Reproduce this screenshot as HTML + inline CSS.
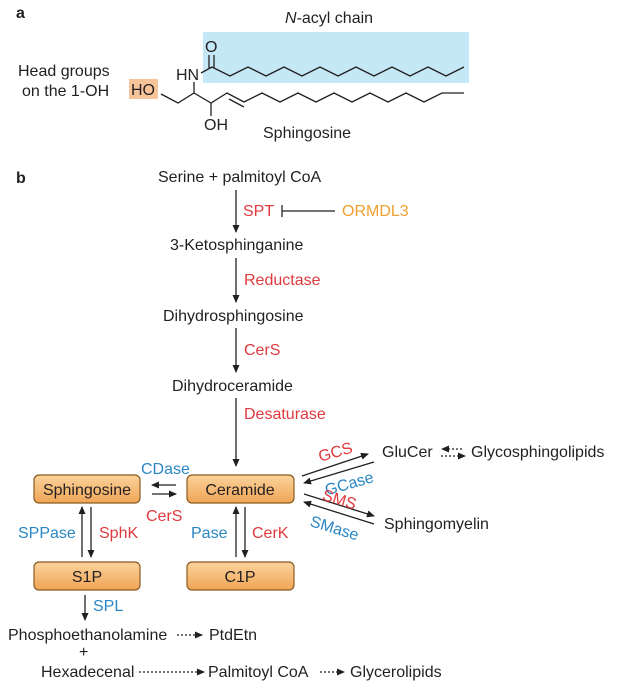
<!DOCTYPE html>
<html><head><meta charset="utf-8"><style>
html,body{margin:0;padding:0;background:#fff}
svg{display:block}
text{font-family:"Liberation Sans",sans-serif;font-size:16px;fill:#231f20}
.r{fill:#e0393e}.b{fill:#2a86c4}.o{fill:#f0a030}
.m{text-anchor:middle}
.bx{fill:url(#g);stroke:#8a5a1f;stroke-width:1.2}
.ln{stroke:#231f20;stroke-width:1.3;fill:none}
.d{stroke:#231f20;stroke-width:1.2;fill:none;stroke-dasharray:2 2}
</style></head><body>
<svg width="618" height="685" viewBox="0 0 618 685">
<defs>
<linearGradient id="g" x1="0" y1="0" x2="0" y2="1"><stop offset="0" stop-color="#fbd39c"/><stop offset="1" stop-color="#f0a556"/></linearGradient>
<marker id="a" markerWidth="8" markerHeight="8" refX="7" refY="4" orient="auto" markerUnits="userSpaceOnUse"><path d="M0,0.5 L8,4 L0,7.5 z" fill="#231f20"/></marker>
</defs>
<text x="16" y="18" style="font-weight:bold;font-size:16px">a</text>
<text x="285" y="23"><tspan font-style="italic">N</tspan>-acyl chain</text>
<rect x="203" y="32" width="266" height="51" fill="#c5e8f6"/>
<text x="18" y="76">Head groups</text>
<text x="22" y="96">on the 1-OH</text>
<rect x="129" y="79" width="29" height="20" fill="#f7c49a"/>
<text x="131" y="95">HO</text>
<text x="176" y="80">HN</text>
<text x="205" y="52">O</text>
<text x="204" y="130">OH</text>
<text x="263" y="138">Sphingosine</text>
<line class="ln" x1="209" y1="55" x2="209" y2="68"/><line class="ln" x1="214" y1="55" x2="214" y2="68"/>
<polyline class="ln" points="201,73 212,67 230,76 248,67 266,76 284,67 302,76 320,67 338,76 356,67 374,76 392,67 410,76 428,67 446,76 464,67"/>
<polyline class="ln" points="161,94 178,103 194,93 211,103 227,93 244,102 262,93 280,102 298,93 316,102 334,93 352,102 370,93 388,102 406,93 424,102 442,93 464,93"/>
<line class="ln" x1="194" y1="93" x2="194" y2="82"/>
<line class="ln" x1="211" y1="103" x2="211" y2="116"/>
<line class="ln" x1="229" y1="99" x2="244" y2="107"/>
<text x="16" y="183" style="font-weight:bold;font-size:16px">b</text>
<text x="158" y="182">Serine + palmitoyl CoA</text>
<line class="ln" x1="236" y1="190" x2="236" y2="232" marker-end="url(#a)"/>
<text class="r" x="243" y="216">SPT</text>
<line class="ln" x1="335" y1="211" x2="282" y2="211"/><line class="ln" x1="282" y1="205" x2="282" y2="217"/>
<text class="o" x="342" y="216">ORMDL3</text>
<text x="170" y="250">3-Ketosphinganine</text>
<line class="ln" x1="236" y1="258" x2="236" y2="302" marker-end="url(#a)"/>
<text class="r" x="244" y="285">Reductase</text>
<text x="163" y="321">Dihydrosphingosine</text>
<line class="ln" x1="236" y1="328" x2="236" y2="372" marker-end="url(#a)"/>
<text class="r" x="244" y="355">CerS</text>
<text x="172" y="391">Dihydroceramide</text>
<line class="ln" x1="236" y1="398" x2="236" y2="466" marker-end="url(#a)"/>
<text class="r" x="244" y="419">Desaturase</text>
<rect class="bx" x="34" y="475" width="106" height="28" rx="5"/>
<text class="m" x="87" y="495">Sphingosine</text>
<rect class="bx" x="187" y="475" width="107" height="28" rx="5"/>
<text class="m" x="240" y="495">Ceramide</text>
<rect class="bx" x="34" y="562" width="106" height="28" rx="5"/>
<text class="m" x="87" y="582">S1P</text>
<rect class="bx" x="187" y="562" width="107" height="28" rx="5"/>
<text class="m" x="240" y="582">C1P</text>
<line class="ln" x1="176" y1="485" x2="152" y2="485" marker-end="url(#a)"/>
<line class="ln" x1="152" y1="494" x2="176" y2="494" marker-end="url(#a)"/>
<text class="b" x="141" y="474">CDase</text>
<text class="r" x="146" y="521">CerS</text>
<line class="ln" x1="82" y1="557" x2="82" y2="507" marker-end="url(#a)"/>
<line class="ln" x1="91" y1="507" x2="91" y2="557" marker-end="url(#a)"/>
<text class="b" x="18" y="538">SPPase</text>
<text class="r" x="99" y="538">SphK</text>
<line class="ln" x1="236" y1="557" x2="236" y2="507" marker-end="url(#a)"/>
<line class="ln" x1="245" y1="507" x2="245" y2="557" marker-end="url(#a)"/>
<text class="b" x="191" y="538">Pase</text>
<text class="r" x="252" y="538">CerK</text>
<line class="ln" x1="302" y1="476" x2="368" y2="454" marker-end="url(#a)"/>
<line class="ln" x1="374" y1="462" x2="304" y2="483" marker-end="url(#a)"/>
<text class="r" x="318" y="458" transform="rotate(-16 333 452)">GCS</text>
<text class="b" x="324" y="490" transform="rotate(-16 345 483)">GCase</text>
<text x="382" y="457">GluCer</text>
<line class="d" x1="462" y1="449" x2="442" y2="449" marker-end="url(#a)"/>
<line class="d" x1="441" y1="456" x2="465" y2="456" marker-end="url(#a)"/>
<text x="471" y="457">Glycosphingolipids</text>
<line class="ln" x1="304" y1="494" x2="374" y2="516" marker-end="url(#a)"/>
<line class="ln" x1="374" y1="524" x2="304" y2="502" marker-end="url(#a)"/>
<text class="r" x="322" y="505" transform="rotate(17 340 500)">SMS</text>
<text class="b" x="310" y="532" transform="rotate(17 330 526)">SMase</text>
<text x="384" y="529">Sphingomyelin</text>
<line class="ln" x1="85" y1="595" x2="85" y2="620" marker-end="url(#a)"/>
<text class="b" x="93" y="611">SPL</text>
<text x="8" y="640">Phosphoethanolamine</text>
<line class="d" x1="177" y1="635" x2="202" y2="635" marker-end="url(#a)"/>
<text x="209" y="640">PtdEtn</text>
<text x="79" y="657">+</text>
<text x="41" y="677">Hexadecenal</text>
<line class="d" x1="139" y1="672" x2="204" y2="672" marker-end="url(#a)"/>
<text x="208" y="677">Palmitoyl CoA</text>
<line class="d" x1="320" y1="672" x2="344" y2="672" marker-end="url(#a)"/>
<text x="350" y="677">Glycerolipids</text>
</svg>
</body></html>
